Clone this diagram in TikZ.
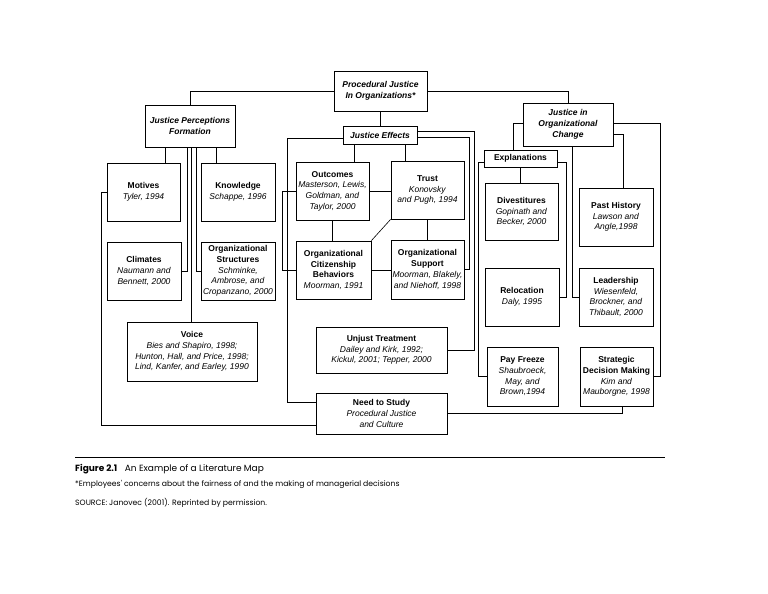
\documentclass[tikz,border=0pt]{standalone}
\usepackage{fontspec}
\setmainfont{Liberation Sans}
\newfontfamily\capfont{Poppins}
\begin{document}
\begin{tikzpicture}[x=1pt,y=-1pt,
  box/.style={draw, line width=0.75pt, align=center, inner sep=0pt, font=\fontsize{8.5}{10.7}\selectfont},
  conn/.style={line width=0.6pt},
  capt/.style={anchor=base west, inner sep=0pt}]
\useasboundingbox[fill=white] (0,0) rectangle (768,594);
% boxes
\node[box, minimum width=93pt, minimum height=40pt] (pj) at (380.5,91) {\bfseries\itshape Procedural Justice\\\bfseries\itshape In Organizations*};
\node[box, minimum width=90pt, minimum height=42pt] (jpf) at (190,126) {\bfseries\itshape Justice Perceptions\\\bfseries\itshape Formation};
\node[box, minimum width=74pt, minimum height=18pt] (je) at (380,135) {\bfseries\itshape Justice Effects};
\node[box, minimum width=90pt, minimum height=43pt] (joc) at (568,124.5) {\bfseries\itshape Justice in\\\bfseries\itshape Organizational\\\bfseries\itshape Change};
\node[box, minimum width=73pt, minimum height=17pt] (expl) at (520.5,158.5) {\bfseries Explanations};
\node[box, minimum width=73pt, minimum height=58pt] (motives) at (143.5,192) {\textbf{Motives}\\\textit{Tyler, 1994}};
\node[box, minimum width=74pt, minimum height=58pt] (knowledge) at (238,192) {\textbf{Knowledge}\\\textit{Schappe, 1996}};
\node[box, minimum width=74pt, minimum height=58pt] (climates) at (144,271) {\textbf{Climates}\\\textit{Naumann and}\\\textit{Bennett, 2000}};
\node[box, minimum width=74pt, minimum height=58pt] (orgstruct) at (238,271) {\textbf{Organizational}\\\textbf{Structures}\\\textit{Schminke,}\\\textit{Ambrose, and}\\\textit{Cropanzano, 2000}};
\node[box, minimum width=130pt, minimum height=59pt] (voice) at (192,351.5) {\textbf{Voice}\\\textit{Bies and Shapiro, 1998;}\\\textit{Hunton, Hall, and Price, 1998;}\\\textit{Lind, Kanfer, and Earley, 1990}};
\node[box, minimum width=73pt, minimum height=58pt] (outcomes) at (332.5,191) {\textbf{Outcomes}\\\textit{Masterson, Lewis,}\\\textit{Goldman, and}\\\textit{Taylor, 2000}};
\node[box, minimum width=73pt, minimum height=58pt] (trust) at (427.5,190) {\textbf{Trust}\\\textit{Konovsky}\\\textit{and Pugh, 1994}};
\node[box, minimum width=75pt, minimum height=58pt] (ocb) at (333.5,270) {\textbf{Organizational}\\\textbf{Citizenship}\\\textbf{Behaviors}\\\textit{Moorman, 1991}};
\node[box, minimum width=73pt, minimum height=59pt] (orgsupport) at (427.5,269.5) {\textbf{Organizational}\\\textbf{Support}\\\textit{Moorman, Blakely,}\\\textit{and Niehoff, 1998}};
\node[box, minimum width=131pt, minimum height=46pt] (unjust) at (381.5,350) {\textbf{Unjust Treatment}\\\textit{Dailey and Kirk, 1992;}\\\textit{Kickul, 2001; Tepper, 2000}};
\node[box, minimum width=131pt, minimum height=41pt] (need) at (381.5,413.5) {\textbf{Need to Study}\\\textit{Procedural Justice}\\\textit{and Culture}};
\node[box, minimum width=73pt, minimum height=57pt] (divest) at (521.5,211.5) {\textbf{Divestitures}\\\textit{Gopinath and}\\\textit{Becker, 2000}};
\node[box, minimum width=74pt, minimum height=58pt] (reloc) at (522,297) {\textbf{Relocation}\\\textit{Daly, 1995}};
\node[box, minimum width=71pt, minimum height=59pt] (payfreeze) at (522.5,376.5) {\textbf{Pay Freeze}\\\textit{Shaubroeck,}\\\textit{May, and}\\\textit{Brown,1994}};
\node[box, minimum width=74pt, minimum height=58pt] (past) at (616,217) {\textbf{Past History}\\\textit{Lawson and}\\\textit{Angle,1998}};
\node[box, minimum width=74pt, minimum height=58pt] (leader) at (616,297) {\textbf{Leadership}\\\textit{Wiesenfeld,}\\\textit{Brockner, and}\\\textit{Thibault, 2000}};
\node[box, minimum width=73pt, minimum height=59pt] (sdm) at (616.5,376.5) {\textbf{Strategic}\\\textbf{Decision Making}\\\textit{Kim and}\\\textit{Mauborgne, 1998}};
% routing coordinates
\coordinate (x101) at (101,0);
\coordinate (x165) at (165,0);
\coordinate (x187) at (187,0);
\coordinate (x191) at (191,0);
\coordinate (x196) at (196,0);
\coordinate (x216) at (216,0);
\coordinate (x282) at (282,0);
\coordinate (x287) at (287,0);
\coordinate (x354) at (354,0);
\coordinate (x405) at (405,0);
\coordinate (x469) at (469,0);
\coordinate (x474) at (474,0);
\coordinate (x478) at (478,0);
\coordinate (x513) at (513,0);
\coordinate (x566) at (566,0);
\coordinate (x572) at (572,0);
\coordinate (x622) at (622,0);
\coordinate (x623) at (623,0);
\coordinate (x660) at (660,0);
\coordinate (y123) at (0,123);
\coordinate (y131) at (0,131);
\coordinate (y134) at (0,134);
\coordinate (y137) at (0,137);
\coordinate (y138) at (0,138);
\coordinate (y162) at (0,162);
\coordinate (y402) at (0,402);
\coordinate (y425) at (0,425);
% connectors
\draw[conn] (pj.west) -| (jpf.north);
\draw[conn] (pj.east) -| (joc.north);
\draw[conn] (pj.south) -- (pj.south |- je.north);
\draw[conn] (jpf.south -| x165) -- (motives.north -| x165);
\draw[conn] (jpf.south -| x216) -- (knowledge.north -| x216);
\draw[conn] (jpf.south -| x187) |- (climates.east);
\draw[conn] (jpf.south -| x191) -- (voice.north -| x191);
\draw[conn] (jpf.south -| x196) |- (orgstruct.west);
\draw[conn] (motives.west) -| (x101 |- y425) -- (need.west |- y425);
\draw[conn] (je.west |- y138) -| (x287 |- y402) -- (need.west |- y402);
\draw[conn] (outcomes.west) -| (x282 |- ocb.west) -- (ocb.west);
\draw[conn] (je.south -| x354) -- (outcomes.north -| x354);
\draw[conn] (je.south -| x405) -- (trust.north -| x405);
\draw[conn] (outcomes.east) -- (outcomes.east -| trust.west);
\draw[conn] (outcomes.south) -- (outcomes.south |- ocb.north);
\draw[conn] (trust.south west) -- (ocb.north east);
\draw[conn] (trust.south) -- (orgsupport.north);
\draw[conn] (ocb.east) -- (ocb.east -| orgsupport.west);
\draw[conn] (je.east |- y137) -| (x469 |- orgsupport.east) -- (orgsupport.east);
\draw[conn] (je.east |- y131) -| (x474 |- unjust.east) -- (unjust.east);
\draw[conn] (joc.west |- y123) -| (x513 |- expl.north);
\draw[conn] (expl.south) -- (expl.south |- divest.north);
\draw[conn] (expl.west |- y162) -| (x478 |- payfreeze.west) -- (payfreeze.west);
\draw[conn] (expl.east |- y162) -| (x566 |- reloc.east) -- (reloc.east);
\draw[conn] (joc.south -| x572) |- (leader.west);
\draw[conn] (joc.east |- y134) -| (x623 |- past.north);
\draw[conn] (joc.east |- y123) -| (x660 |- sdm.east) -- (sdm.east);
\draw[conn] (need.east) -| (x622 |- sdm.south);
% caption
\coordinate (rl) at (75,457);
\coordinate (rr) at (665,457);
\draw[line width=0.8pt] (rl) -- (rr);
\node[capt, font=\capfont\fontsize{9}{10}\selectfont] (cap1) at (75,471) {\textbf{Figure 2.1}\hspace{7.5pt}An Example of a Literature Map};
\node[capt, font=\capfont\fontsize{7.7}{9}\selectfont] (cap2) at (75,486.5) {*Employees' concerns about the fairness of and the making of managerial decisions};
\node[capt, font=\capfont\fontsize{7.7}{9}\selectfont] (cap3) at (75,505) {SOURCE: Janovec (2001). Reprinted by permission.};
\end{tikzpicture}
\end{document}
